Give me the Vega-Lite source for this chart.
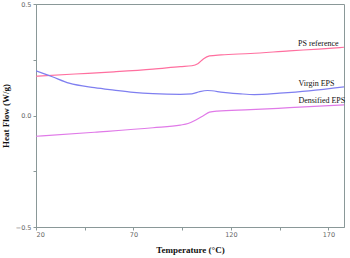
{
  "$schema": "https://vega.github.io/schema/vega-lite/v6.json",
  "autosize": "none",
  "width": 308,
  "height": 223,
  "padding": {"left": 36, "top": 4, "right": 6, "bottom": 31},
  "background": "white",
  "config": {
    "view": {"stroke": "#8a9898", "strokeWidth": 1},
    "axis": {"grid": false, "domainColor": "#8a9898", "tickColor": "#8a9898", "labelColor": "#666", "labelFont": "DejaVu Sans", "labelFontSize": 6.5, "titleFont": "Liberation Serif", "titleFontWeight": "bold", "titleFontSize": 9, "titleColor": "#111", "tickSize": 3}
  },
  "datasets": {
    "curves": [
      {"series": "PS reference", "t": 20, "v": 0.176},
      {"series": "PS reference", "t": 40, "v": 0.186},
      {"series": "PS reference", "t": 60, "v": 0.196},
      {"series": "PS reference", "t": 80, "v": 0.208},
      {"series": "PS reference", "t": 94, "v": 0.219},
      {"series": "PS reference", "t": 100, "v": 0.223},
      {"series": "PS reference", "t": 103, "v": 0.232},
      {"series": "PS reference", "t": 106, "v": 0.255},
      {"series": "PS reference", "t": 109, "v": 0.267},
      {"series": "PS reference", "t": 115, "v": 0.272},
      {"series": "PS reference", "t": 130, "v": 0.278},
      {"series": "PS reference", "t": 150, "v": 0.29},
      {"series": "PS reference", "t": 165, "v": 0.298},
      {"series": "PS reference", "t": 178, "v": 0.306},
      {"series": "Virgin EPS", "t": 20, "v": 0.2},
      {"series": "Virgin EPS", "t": 28, "v": 0.175},
      {"series": "Virgin EPS", "t": 37, "v": 0.145},
      {"series": "Virgin EPS", "t": 50, "v": 0.125},
      {"series": "Virgin EPS", "t": 60, "v": 0.114},
      {"series": "Virgin EPS", "t": 70, "v": 0.104},
      {"series": "Virgin EPS", "t": 80, "v": 0.098},
      {"series": "Virgin EPS", "t": 94, "v": 0.095},
      {"series": "Virgin EPS", "t": 100, "v": 0.097},
      {"series": "Virgin EPS", "t": 104, "v": 0.107},
      {"series": "Virgin EPS", "t": 108, "v": 0.112},
      {"series": "Virgin EPS", "t": 116, "v": 0.104},
      {"series": "Virgin EPS", "t": 125, "v": 0.097},
      {"series": "Virgin EPS", "t": 132, "v": 0.094},
      {"series": "Virgin EPS", "t": 145, "v": 0.1},
      {"series": "Virgin EPS", "t": 160, "v": 0.11},
      {"series": "Virgin EPS", "t": 178, "v": 0.128},
      {"series": "Densified EPS", "t": 20, "v": -0.093},
      {"series": "Densified EPS", "t": 50, "v": -0.075},
      {"series": "Densified EPS", "t": 80, "v": -0.055},
      {"series": "Densified EPS", "t": 94, "v": -0.043},
      {"series": "Densified EPS", "t": 98, "v": -0.036},
      {"series": "Densified EPS", "t": 102, "v": -0.02},
      {"series": "Densified EPS", "t": 106, "v": 0.0},
      {"series": "Densified EPS", "t": 109, "v": 0.015},
      {"series": "Densified EPS", "t": 113, "v": 0.02},
      {"series": "Densified EPS", "t": 130, "v": 0.026},
      {"series": "Densified EPS", "t": 150, "v": 0.035},
      {"series": "Densified EPS", "t": 178, "v": 0.048}
    ],
    "labels": [
      {"series": "PS reference", "t": 154.4, "v": 0.3215},
      {"series": "Virgin EPS", "t": 154.6, "v": 0.142},
      {"series": "Densified EPS", "t": 154.6, "v": 0.067}
    ]
  },
  "layer": [
    {
      "data": {"name": "curves"},
      "mark": {"type": "line", "interpolate": "monotone", "strokeWidth": 1.2, "clip": true},
      "encoding": {
        "x": {"field": "t", "type": "quantitative", "scale": {"domain": [20, 178], "nice": false, "zero": false},
          "axis": {"title": "Temperature  (\u00b0C)", "values": [20, 32.5, 45, 57.5, 70, 82.5, 95, 107.5, 120, 132.5, 145, 157.5, 170],
            "labelExpr": "(datum.value - 20) % 50 == 0 ? datum.value : ''", "labelPadding": 1, "titlePadding": 8}},
        "y": {"field": "v", "type": "quantitative", "scale": {"domain": [-0.5, 0.5], "nice": false},
          "axis": {"title": "Heat Flow (W/g)", "values": [-0.5, -0.375, -0.25, -0.125, 0, 0.125, 0.25, 0.375, 0.5],
            "labelExpr": "abs(datum.value*2 - round(datum.value*2)) < 0.001 ? format(datum.value, '.1f') : ''", "labelPadding": 2, "titlePadding": 5}},
        "color": {"field": "series", "type": "nominal", "legend": null,
          "scale": {"domain": ["PS reference", "Virgin EPS", "Densified EPS"], "range": ["#ff6f9f", "#7f7ff0", "#e07ae8"]}}
      }
    },
    {
      "data": {"name": "labels"},
      "mark": {"type": "text", "font": "Liberation Serif", "fontSize": 8, "color": "#111", "align": "left", "baseline": "middle"},
      "encoding": {
        "x": {"field": "t", "type": "quantitative"},
        "y": {"field": "v", "type": "quantitative"},
        "text": {"field": "series"}
      }
    }
  ]
}
